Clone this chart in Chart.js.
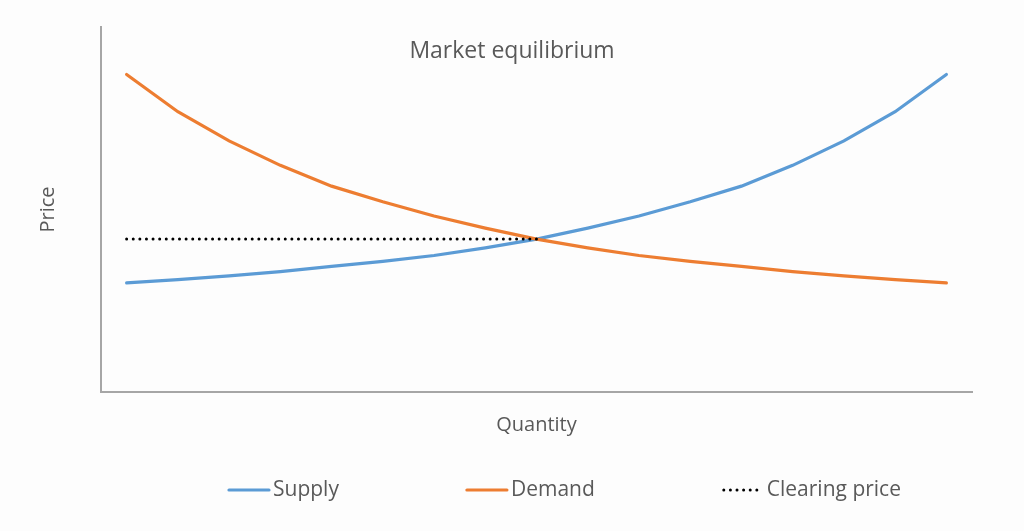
<!DOCTYPE html>
<html>
<head>
<meta charset="utf-8">
<script src="https://cdn.jsdelivr.net/npm/chart.js@4/dist/chart.umd.min.js"></script>
<style>
  html, body { margin: 0; padding: 0; background: #fdfdfd; }
  #wrap { width: 1024px; height: 531px; position: relative; }
</style>
</head>
<body>
<div id="wrap"><canvas id="c"></canvas></div>
<script>
// ---- Data ----
const quantities = ['1','2','3','4','5','6','7','8','9','10','11','12','13','14','15','16','17'];
const supply = [29.9, 30.8, 31.8, 33.0, 34.4, 35.8, 37.4, 39.5, 41.9, 44.9, 48.2, 52.1, 56.4, 62.1, 68.8, 76.8, 87.0];
const demand = [87.0, 76.8, 68.8, 62.1, 56.4, 52.1, 48.2, 44.9, 41.9, 39.5, 37.4, 35.8, 34.4, 33.0, 31.8, 30.8, 29.9];
const clearingPrice = [41.9, 41.9, 41.9, 41.9, 41.9, 41.9, 41.9, 41.9, 41.9, null, null, null, null, null, null, null, null];
const seriesNames = ['Supply', 'Demand', 'Clearing price'];
const chartTitle = 'Market equilibrium';
const xTitle = 'Quantity';
const yTitle = 'Price';

const TEXT = '#595959';
Chart.defaults.font.family = '"Open Sans", "DejaVu Sans", sans-serif';
Chart.defaults.color = TEXT;

// Custom legend drawn below the plot (Excel-like wide spacing)
const customLegend = {
  id: 'customLegend',
  afterDraw(chart) {
    const ctx = chart.ctx;
    ctx.save();
    ctx.font = '21px "Open Sans"';
    ctx.textBaseline = 'middle';
    ctx.fillStyle = TEXT;
    const y = 490;
    let x = 229;
    chart.data.datasets.forEach(ds => {
      ctx.beginPath();
      ctx.strokeStyle = ds.borderColor;
      ctx.lineWidth = ds.borderWidth;
      ctx.lineCap = ds.borderCapStyle || 'butt';
      ctx.setLineDash(ds.borderDash || []);
      ctx.moveTo(x + (ds.borderDash ? 1 : 0), y);
      ctx.lineTo(x + 40, y);
      ctx.stroke();
      ctx.setLineDash([]);
      const tx = x + 44;
      ctx.fillText(ds.label, tx, y);
      x = tx + ctx.measureText(ds.label).width + 128;
    });
    ctx.restore();
  }
};

new Chart(document.getElementById('c'), {
  type: 'line',
  data: {
    labels: quantities,
    datasets: [
      { label: seriesNames[0], data: supply, borderColor: '#5b9bd5', backgroundColor: '#5b9bd5',
        borderWidth: 3.2, pointRadius: 0, tension: 0, order: 2, borderCapStyle: 'round' },
      { label: seriesNames[1], data: demand, borderColor: '#ed7d31', backgroundColor: '#ed7d31',
        borderWidth: 3.2, pointRadius: 0, tension: 0, order: 1, borderCapStyle: 'round' },
      { label: seriesNames[2], data: clearingPrice, borderColor: '#000000', backgroundColor: '#000000',
        borderWidth: 3, pointRadius: 0, tension: 0, order: 0, borderDash: [0.01, 6.6], borderCapStyle: 'round', spanGaps: false }
    ]
  },
  options: {
    responsive: true,
    maintainAspectRatio: false,
    animation: false,
    layout: { padding: 0 },
    plugins: {
      legend: { display: false },
      tooltip: { enabled: false },
      title: {
        display: true, text: chartTitle, color: TEXT,
        font: { size: 23, weight: 'normal', lineHeight: 1.2 },
        padding: { top: 37.2, bottom: -37.8 }
      }
    },
    scales: {
      x: {
        type: 'category', offset: true,
        grid: { display: false, drawTicks: false },
        ticks: { display: false },
        border: { display: true, color: '#a6a6a6', width: 2 },
        title: { display: true, text: xTitle, color: TEXT, font: { size: 20, lineHeight: 1.2 }, padding: { top: 0, bottom: 94 } },
        afterFit(scale) { scale.height = 139; }
      },
      y: {
        min: 0, max: 100,
        grid: { display: false, drawTicks: false },
        ticks: { display: false },
        border: { display: true, color: '#a6a6a6', width: 2 },
        title: { display: true, text: yTitle, color: TEXT, font: { size: 20, lineHeight: 1.2 }, padding: { top: 36, bottom: 0 } },
        afterFit(scale) { scale.width = 101; }
      },
      yRight: {
        position: 'right', display: true,
        grid: { display: false, drawTicks: false },
        ticks: { display: false },
        border: { display: false },
        afterFit(scale) { scale.width = 52; }
      }
    }
  },
  plugins: [customLegend]
});
</script>
</body>
</html>
